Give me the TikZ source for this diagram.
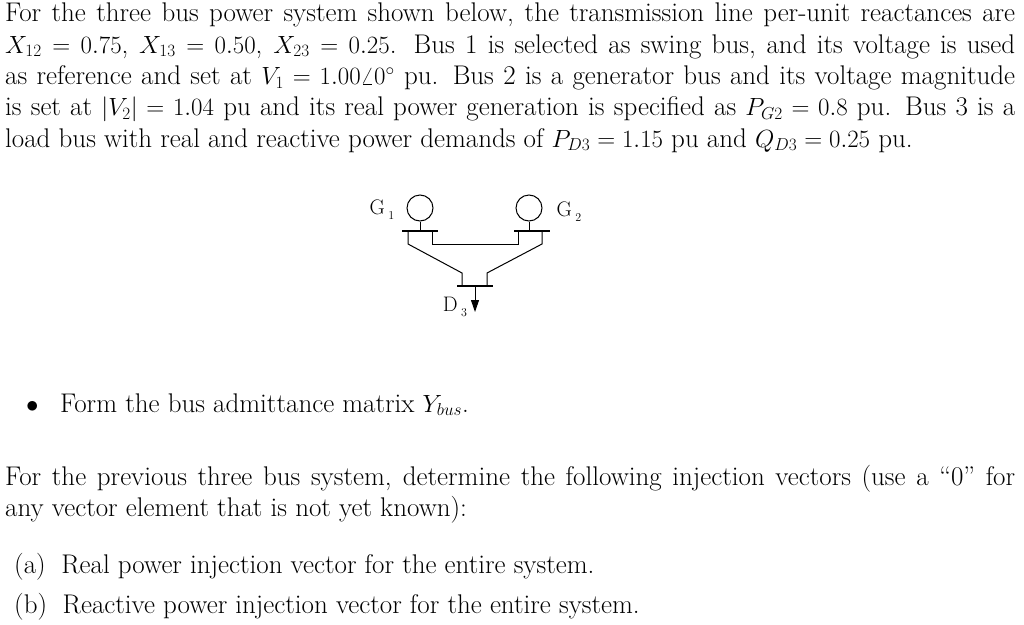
\documentclass[tikz,border=0pt]{standalone}
\usepackage{amsmath}
\usetikzlibrary{arrows.meta}
\begin{document}
\begin{tikzpicture}[x=1pt,y=-1pt,
  para/.style={anchor=north west,inner sep=0pt,text width=1010pt,align=justify,font=\fontsize{27}{31.3}\selectfont},
  txt/.style={anchor=base west,inner sep=0pt,font=\fontsize{27}{31.3}\selectfont},
  lab/.style={inner sep=0pt,font=\fontsize{21}{22}\selectfont},
  wire/.style={line width=1pt},
  bar/.style={line width=2.2pt},
  gen/.style={circle,draw,line width=1pt,minimum size=26pt,inner sep=0pt}]
\useasboundingbox (0,0) rectangle (1024,624);
\node[para] (p1) at (5,3) {For the three bus power system shown below, the transmission line per-unit reactances are\linebreak
$X_{12}=0.75$, $X_{13}=0.50$, $X_{23}=0.25$. Bus 1 is selected as swing bus, and its voltage is used\linebreak
as reference and set at $V_1=1.00\angle 0^\circ$ pu. Bus 2 is a generator bus and its voltage magnitude\linebreak
is set at $|V_2|=1.04$ pu and its real power generation is specified as $P_{G2}=0.8$ pu. Bus 3 is a\linebreak
load bus with real and reactive power demands of $P_{D3}=1.15$ pu and $Q_{D3}=0.25$ pu.\hfill\null};
% diagram
\node[gen] (g1) at (420,208) {};
\node[gen] (g2) at (529,208) {};
\coordinate (b1l) at (402,231); \coordinate (b1r) at (438,231);
\coordinate (b2l) at (514,231); \coordinate (b2r) at (550,231);
\coordinate (b3l) at (457,286); \coordinate (b3r) at (493,286);
\draw[bar] (b1l) -- (b1r);
\draw[bar] (b2l) -- (b2r);
\draw[bar] (b3l) -- (b3r);
\draw[wire] (g1.south) -- (420,231);
\draw[wire] (g2.south) -- (529,231);
\draw[wire] (408,231) -- (408,244) -- (462,273) -- (462,286);
\draw[wire] (432,231) -- (432,244) -- (518,244) -- (518,231);
\draw[wire] (542,231) -- (542,244) -- (487,273) -- (487,286);
\coordinate (d3) at (475,312);
\draw[wire,-{Triangle[length=12pt,width=8pt]}] (475,286) -- (d3);
\node[lab] (lg1) at (382,210) {G\,\raisebox{-5pt}{\fontsize{12}{13}\selectfont 1}};
\node[lab] (lg2) at (569,212) {G\,\raisebox{-5pt}{\fontsize{12}{13}\selectfont 2}};
\node[lab] (ld3) at (455,307) {D\,\raisebox{-5pt}{\fontsize{12}{13}\selectfont 3}};
\node[txt] (bul) at (26,412) {$\bullet$};
\node[txt] (q1) at (60,412) {Form the bus admittance matrix $Y_{bus}$.};
\node[para] (p2) at (5,465) {For the previous three bus system, determine the following injection vectors (use a ``0'' for\linebreak
any vector element that is not yet known):\hfill\null};
\node[txt] (qa) at (14,573) {(a)\; Real power injection vector for the entire system.};
\node[txt] (qb) at (14,613) {(b)\; Reactive power injection vector for the entire system.};
\end{tikzpicture}
\end{document}
